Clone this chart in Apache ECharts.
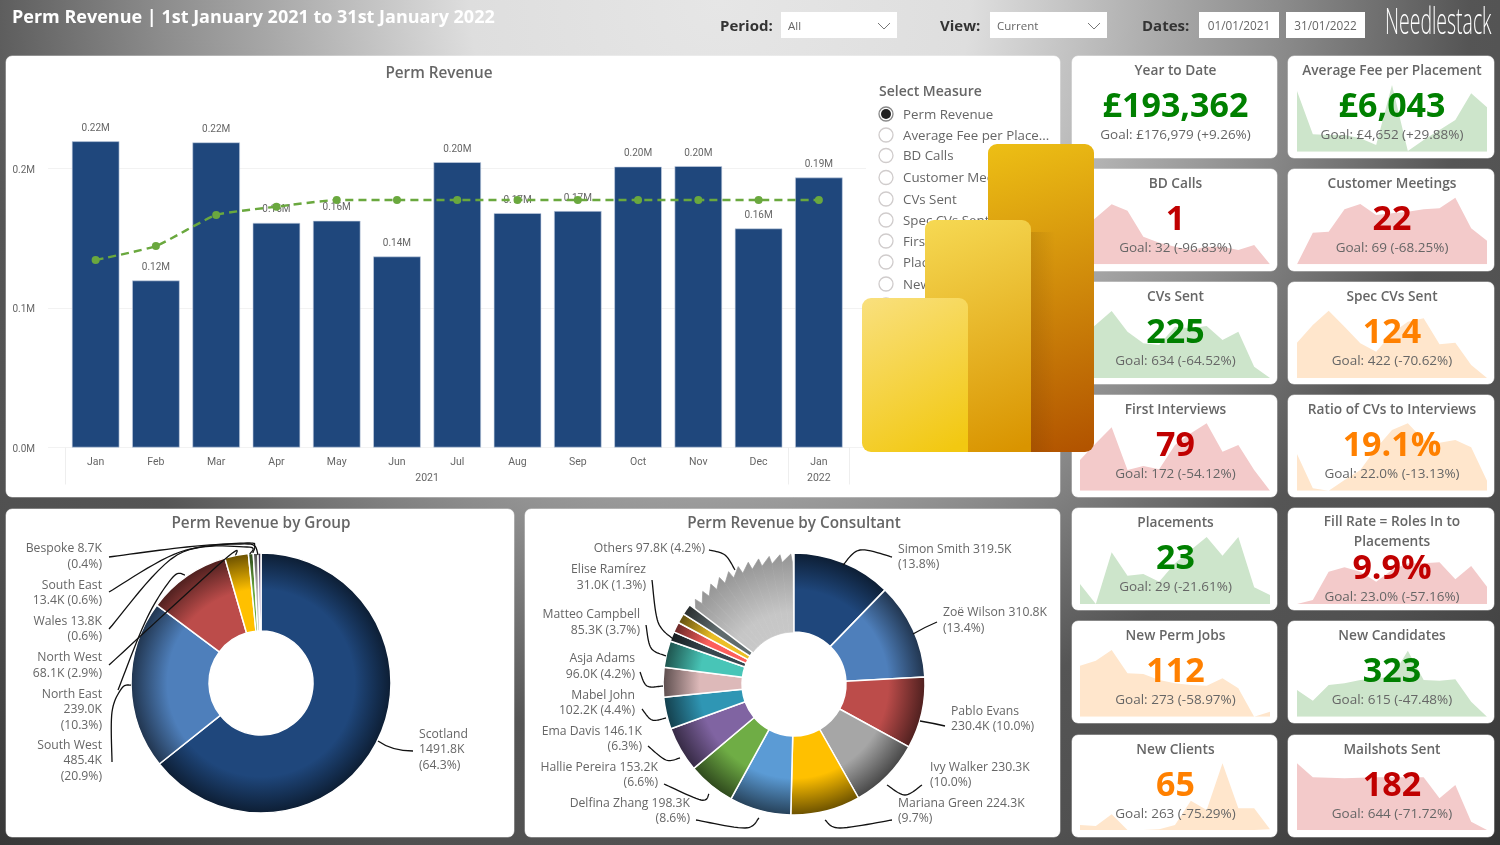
<!DOCTYPE html>
<html><head><meta charset="utf-8">
<style>
html,body{margin:0;padding:0;width:1500px;height:845px;overflow:hidden;
background:radial-gradient(circle 1150px at 720px 0px,#e6e6e6 0,#dedede 250px,#a8a8a8 450px,#8c8c8c 560px,#555 750px,#505050 900px,#333 1150px);}
#c{width:1500px;height:845px;}
</style>
<script src="https://cdn.jsdelivr.net/npm/echarts@6/dist/echarts.min.js"></script>
</head><body><div id="c"></div>
<script>
// ---------- data ----------
const months = ['Jan','Feb','Mar','Apr','May','Jun','Jul','Aug','Sep','Oct','Nov','Dec','Jan'];
const revenue = [0.2195,0.1197,0.2187,0.1610,0.1625,0.1369,0.2045,0.1680,0.1695,0.2013,0.2017,0.1570,0.1935];
const revenueGoal = [0.1344,0.1444,0.1667,0.1726,0.1774,0.1774,0.1774,0.1774,0.1774,0.1774,0.1774,0.1774,0.1774];
const yearLabels = ['2021','2022'];
const measures = ['Perm Revenue','Average Fee per Place...','BD Calls','Customer Meetings','CVs Sent','Spec CVs Sent','First Interviews','Placements','New Perm Jobs','New Candidates'];

const groupNames = ['Scotland','South West','North East','North West','Wales','South East','Bespoke'];
const groupValues = [1491.8,485.4,239.0,68.1,13.8,13.4,8.7];
const groupLabels = ['Scotland\n1491.8K\n(64.3%)','South West\n485.4K\n(20.9%)','North East\n239.0K\n(10.3%)','North West\n68.1K (2.9%)','Wales 13.8K\n(0.6%)','South East\n13.4K (0.6%)','Bespoke 8.7K\n(0.4%)'];

const consultantNames = ['Simon Smith','Zoë Wilson','Pablo Evans','Ivy Walker','Mariana Green','Delfina Zhang','Hallie Pereira','Ema Davis','Mabel John','Asja Adams','Matteo Campbell','Elise Ramírez','Consultant A','Consultant B','Consultant C'];
const consultantValues = [319.5,310.8,230.4,230.3,224.3,198.3,153.2,146.1,102.2,96.0,85.3,31.0,33.0,32.0,30.0];
const consultantLabels = ['Simon Smith 319.5K\n(13.8%)','Zoë Wilson 310.8K\n(13.4%)','Pablo Evans\n230.4K (10.0%)','Ivy Walker 230.3K\n(10.0%)','Mariana Green 224.3K\n(9.7%)','Delfina Zhang 198.3K\n(8.6%)','Hallie Pereira 153.2K\n(6.6%)','Ema Davis 146.1K\n(6.3%)','Mabel John\n102.2K (4.4%)','Asja Adams\n96.0K (4.2%)','Matteo Campbell\n85.3K (3.7%)','Elise Ramírez\n31.0K (1.3%)'];
const othersLabel = 'Others 97.8K (4.2%)';
const othersBreakdown = [13.2,11.6,10.4,9.7,9.1,8.6,8.2,7.9,7.1,6.3,5.7];

const kpiTitles = ['Year to Date','Average Fee per Placement','BD Calls','Customer Meetings','CVs Sent','Spec CVs Sent','First Interviews','Ratio of CVs to Interviews','Placements','Fill Rate = Roles In to\nPlacements','New Perm Jobs','New Candidates','New Clients','Mailshots Sent'];
const kpiValues = ['£193,362','£6,043','1','22','225','124','79','19.1%','23','9.9%','112','323','65','182'];
const kpiGoals = ['Goal: £176,979 (+9.26%)','Goal: £4,652 (+29.88%)','Goal: 32 (-96.83%)','Goal: 69 (-68.25%)','Goal: 634 (-64.52%)','Goal: 422 (-70.62%)','Goal: 172 (-54.12%)','Goal: 22.0% (-13.13%)','Goal: 29 (-21.61%)','Goal: 23.0% (-57.16%)','Goal: 273 (-58.97%)','Goal: 615 (-47.48%)','Goal: 263 (-75.29%)','Goal: 644 (-71.72%)'];
const kpiStatus = ['good','good','bad','bad','good','warn','bad','warn','good','bad','warn','good','warn','bad'];

const sparkFee = [182,52,50,50,40,20,200,2,35,65,95,175,133];
const sparkBD = [100,140,180,161,83,65,53,43,53,53,43,58,0];
const sparkMeetings = [0,95,98,165,181,148,153,158,165,168,200,108,71];
const sparkCVs = [120,160,201,139,104,99,154,149,156,114,139,34,0];
const sparkSpec = [106,159,202,154,104,79,134,169,179,101,106,39,0];
const sparkInterviews = [92,142,190,62,74,64,137,172,202,117,137,62,0];
const sparkRatio = [110,7,0,32,62,127,182,202,152,144,152,130,30];
const sparkPlacements = [60,0,155,85,90,67,122,162,201,145,201,50,27];
const sparkFill = [0,12,97,110,97,67,102,122,122,125,74,114,52];
const sparkJobs = [153,168,200,130,128,110,100,95,93,115,85,0,15];
const sparkCandidates = [80,48,95,100,110,115,120,198,110,108,112,45,0];
const sparkClients = [15,12,47,0,0,2,15,88,60,200,65,65,2];
const sparkMailshots = [200,158,157,155,157,158,158,158,158,95,135,25,0];
const sparks = [null,sparkFee,sparkBD,sparkMeetings,sparkCVs,sparkSpec,sparkInterviews,sparkRatio,sparkPlacements,sparkFill,sparkJobs,sparkCandidates,sparkClients,sparkMailshots];

// ---------- layout and style (not data) ----------
const F = '"Open Sans"';
const GREY = '#666666';
const statusColor = {good:'#008000',bad:'#C00000',warn:'#FF8000'};
const sparkColor = {good:'#CDE5CB',bad:'#F3CACA',warn:'#FFE6CC'};
const rowTops = [56,169,282,395,508,621,735];
const rowH = [102,102,102,102,102,102,102];
const sparkBase = [151.7,264.3,378,490.7,604,716.7,830];
const colX = [1072,1288], colW = [205,206], sparkX = [1080,1297];
const panels = [[6,56,1054,441],[6,509,508,328],[525,509,535,328]];
const AXIS0 = 447.5, PXPER = 1395;    // y of 0 and px per 1.0M
const YMAX = 0.25;
const gridTop = AXIS0 - YMAX*PXPER, gridH = YMAX*PXPER;

const groupColors = ['#1F477C','#4E7FBB','#BC4C4A','#FFC000','#6AA83E','#B9B9B9','#7F5F9F'];
const consultantColors = ['#1F477C','#4E7FBB','#BC4C4A','#A6A6A6','#FFC000','#5B9BD5','#6FAD45','#8064A2','#2F96B4','#DDB9B9','#48C5B7','#37474F','#FD5F5C','#EBBF26','#5F6B6D'];
function shade(hex,f){const n=parseInt(hex.slice(1),16);const c=[n>>16,(n>>8)&255,n&255].map(v=>Math.round(v*f));return 'rgb('+c.join(',')+')';}
function rim(hex,cx,cy,R){return {type:'radial',x:cx,y:cy,r:R,global:true,colorStops:[{offset:0,color:hex},{offset:0.72,color:hex},{offset:1,color:shade(hex,0.42)}]};}

const G = {cx:261,cy:683,r0:52,R:130};
const C = {cx:794,cy:684,r0:52,R:131};
const groupLabelPos = [[419,750,'left'],[102,761,'right'],[102,710,'right'],[102,665.5,'right'],[102,629,'right'],[102,593,'right'],[102,556.5,'right']];
const groupLinePts = [
 [[131,685],[122,688],[112,712],[112,762]],
 [[185,575],[173,577],[147,618],[118,690]],
 [[236,555],[224,560],[109,665]],
 [[250,554],[247,547],[177,555],[109,629]],
 [[253,553],[248,544],[180,552],[109,592]],
 [[258,555],[255,546],[247,543],[187,547],[109,557]]];
const consLabelPos = [[898,557,'left'],[943,620.5,'left'],[951,719,'left'],[930,775,'left'],[898,811,'left'],[690,811,'right'],[658,775,'right'],[642,739,'right'],[635,703,'right'],[635,666.5,'right'],[640,622.5,'right'],[646,577.5,'right']];
const consLinePts = [
 [[843,565],[860,550],[892,557]],
 [[887,785],[905,795],[922,785]],
 [[825,820],[840,828],[892,820]],
 [[759,818],[745,828],[696,820]],
 [[709,794],[701,800],[664,784]],
 [[680,758],[666,760],[648,746]],
 [[666,718],[652,720],[642,709]],
 [[663,686],[647,686],[640,672]],
 [[666,656],[651,648],[646,625]],
 [[673,639],[658,622],[652,580]]];
// short leaders on the right of the pies: start, control point, end
const rightLeaders = [
 [[378,741],[392,751],[413,751]],
 [[913,634],[925,627],[937,622]],
 [[920,721],[932,723],[945,726]]];
const othersLabelPos = [705,549,'right'];
const othersLinePts = [[735,570],[725,555],[709,550]];
const MIN_ANGLE = 4.8;

// ---------- graphic furniture ----------
const g = [];
function txt(x,y,text,font,fill,align,z,extra){
  g.push(Object.assign({type:'text',x,y:y+1,z:z==null?50:z,silent:true,style:{text,font,fill,textAlign:align||'left',textVerticalAlign:'middle',align:align||'left',verticalAlign:'middle',lineHeight:20}},extra||{}));
}
function box(x,y,w,h,r,fill,z,stroke){
  g.push({type:'rect',z:z==null?-5:z,silent:true,shape:{x,y,width:w,height:h,r},style:{fill,stroke:stroke||null,lineWidth:stroke?1:0}});
}
panels.forEach(p=>box(p[0],p[1],p[2],p[3],6,'#fff',-5,'rgba(255,255,255,0.55)'));
rowTops.forEach((t,r)=>colX.forEach((x,c)=>box(x,t,colW[c],rowH[r],6,'#fff',-5,'rgba(255,255,255,0.55)')));

// header
txt(12,17,'Perm Revenue | 1st January 2021 to 31st January 2022','700 18px '+F,'#fff');
txt(720,25.5,'Period:','700 15px '+F,'#333');
txt(940,25.5,'View:','700 15px '+F,'#333');
txt(1142,25.5,'Dates:','700 15px '+F,'#333');
[[781,116,'All'],[990,117,'Current']].forEach(d=>{
  box(d[0],12,d[1],26,0,'#fff',1);
  txt(d[0]+7,25.5,d[2],'11.5px '+F,GREY,'left');
  const cx=d[0]+d[1]-13;
  g.push({type:'polyline',z:50,silent:true,shape:{points:[[cx-6,23],[cx,29],[cx+6,23]]},style:{stroke:'#777',lineWidth:1,fill:null}});
});
[[1199,80,'01/01/2021'],[1286,79,'31/01/2022']].forEach(d=>{
  box(d[0],12,d[1],26,0,'#fff',1);
  txt(d[0]+d[1]/2,25.5,d[2],'11.8px '+F,GREY,'center');
});
txt(1385,23,'Needlestack','300 36px '+F,'#fff','left',50,{scaleX:0.54});

// select measure
txt(879,91,'Select Measure','600 14px '+F,GREY);
const radioY=[114,135,155.5,177.5,199,220,241,262,284,305];
measures.forEach((m,i)=>{
  g.push({type:'circle',z:10,silent:true,shape:{cx:886,cy:radioY[i],r:7},style:{fill:'#fff',stroke:i===0?'#888':'#d0cccc',lineWidth:1.3}});
  if(i===0) g.push({type:'circle',z:11,silent:true,shape:{cx:886,cy:radioY[i],r:5},style:{fill:'#222'}});
  txt(903,radioY[i],m,'13.3px '+F,GREY,'left',10);
});

// kpi text
kpiTitles.forEach((t,i)=>{
  const r=Math.floor(i/2), c=i%2, cx=colX[c]+colW[c]/2+1, top=rowTops[r];
  const two=t.indexOf('\n')>=0;
  txt(cx,top+(two?23.5:14.5),t,'600 13.7px '+F,GREY,'center',60);
  txt(cx,top+(two?60:50),kpiValues[i],'700 34px '+F,statusColor[kpiStatus[i]],'center',60);
  txt(cx,top+(two?88.5:78.5),kpiGoals[i],'13.5px '+F,GREY,'center',60);
});

// pie leader lines (curved through the guide points)
function curve(pts){
  if(pts.length<3) return pts;
  const out=[];
  for(let i=0;i<pts.length-1;i++){
    const p0=pts[Math.max(i-1,0)],p1=pts[i],p2=pts[i+1],p3=pts[Math.min(i+2,pts.length-1)];
    for(let k=0;k<12;k++){
      const t=k/12,t2=t*t,t3=t2*t;
      out.push([0,1].map(d=>0.5*(2*p1[d]+(p2[d]-p0[d])*t+(2*p0[d]-5*p1[d]+4*p2[d]-p3[d])*t2+(3*p1[d]-p0[d]-3*p2[d]+p3[d])*t3)));
    }
  }
  out.push(pts[pts.length-1]);
  return out;
}
groupLinePts.concat(consLinePts,[othersLinePts]).forEach(pts=>{
  g.push({type:'polyline',z:190,silent:true,shape:{points:curve(pts)},style:{stroke:'#111',lineWidth:1.3,fill:null}});
});
rightLeaders.forEach(p=>{
  g.push({type:'bezierCurve',z:190,silent:true,shape:{x1:p[0][0],y1:p[0][1],cpx1:p[1][0],cpy1:p[1][1],x2:p[2][0],y2:p[2][1]},style:{stroke:'#111',lineWidth:1.3,fill:null}});
});

// logo (on top of everything)
function grad(a,b){return {type:'linear',x:0,y:0,x2:0.8,y2:1,colorStops:[{offset:0,color:a},{offset:1,color:b}]};}
g.push({type:'rect',z:200,silent:true,shape:{x:988,y:144,width:106,height:308,r:[9,9,9,0]},style:{fill:grad('#EDBF15','#B25400')}});
g.push({type:'rect',z:201,silent:true,shape:{x:1031,y:232,width:24,height:220,r:0},style:{fill:{type:'linear',x:0,y:0,x2:1,y2:0,colorStops:[{offset:0,color:'rgba(70,35,0,0.13)'},{offset:1,color:'rgba(70,35,0,0)'}]}}});
g.push({type:'rect',z:202,silent:true,shape:{x:925,y:220,width:106,height:232,r:[9,9,0,0]},style:{fill:grad('#F6D953','#D99400')}});
g.push({type:'rect',z:204,silent:true,shape:{x:862,y:298,width:106,height:154,r:[9,9,0,9]},style:{fill:grad('#F9E07E','#F2C811')}});

// ---------- chart ----------
const grids=[], xAxes=[], yAxes=[], series=[];
function addGrid(o){grids.push(o);return grids.length-1;}
// 0: full-width grid holding the faint split lines
addGrid({left:48,width:818,top:gridTop,height:gridH});
xAxes.push({gridIndex:0,type:'category',show:false,data:months});
yAxes.push({gridIndex:0,type:'value',min:0,max:YMAX,interval:0.1,axisLine:{show:false},axisTick:{show:false},axisLabel:{show:false},
  splitLine:{show:true,showMaxLine:false,lineStyle:{color:'#f2f2f2',width:1}}});
// 1: bars and goal line
addGrid({left:65.5,width:783.5,top:gridTop,height:gridH});
xAxes.push({gridIndex:1,type:'category',data:months,axisLine:{show:false},axisTick:{show:false},
  axisLabel:{margin:9,fontFamily:'Roboto',fontSize:10.5,color:GREY,interval:0}});
yAxes.push({gridIndex:1,type:'value',show:false,min:0,max:YMAX});
// second row: year labels and separators
xAxes.push({gridIndex:1,type:'value',min:0,max:13,position:'bottom',splitLine:{show:false},axisLine:{show:false},
  axisTick:{show:true,customValues:[0,12,13],length:37,lineStyle:{color:'#eeeeee'}},
  axisLabel:{margin:25,customValues:[6,12.5],fontFamily:'Roboto',fontSize:10.5,color:GREY,hideOverlap:false,showMinLabel:true,showMaxLabel:true,
    formatter:v=>v<12?yearLabels[0]:yearLabels[1]}});
series.push({name:'Perm Revenue',type:'bar',xAxisIndex:1,yAxisIndex:1,data:revenue,barWidth:47.5,z:2,
  itemStyle:{color:'#1F477C',borderColor:'#C9D4E4',borderWidth:0.6},
  label:{show:true,position:'top',distance:8,fontFamily:'Roboto',fontSize:10,color:GREY,formatter:p=>p.value.toFixed(2)+'M'}});
series.push({name:'Goal',type:'line',xAxisIndex:1,yAxisIndex:1,data:revenueGoal,smooth:0.15,z:4,symbol:'circle',symbolSize:8,
  lineStyle:{color:'#6AA83E',width:2.4,type:[8,5]},itemStyle:{color:'#6AA83E'}});
// tick labels of the value axis sit a touch below their split lines in the reference
const yLabelGrid=addGrid({left:48,width:818,top:gridTop+1.6,height:gridH});
xAxes.push({gridIndex:yLabelGrid,type:'category',show:false,data:months});
yAxes.push({gridIndex:yLabelGrid,type:'value',min:0,max:YMAX,interval:0.1,axisLine:{show:false},axisTick:{show:false},splitLine:{show:false},
  axisLabel:{showMaxLabel:false,margin:13,fontFamily:'Roboto',fontSize:10,color:GREY,formatter:v=>v.toFixed(1)+'M'}});

// sparklines
sparks.forEach((s,i)=>{
  if(!s) return;
  const r=Math.floor(i/2), c=i%2;
  const idx=addGrid({left:sparkX[c],width:190,top:sparkBase[r]-70,height:70});
  const xi=xAxes.length, yi=yAxes.length;
  xAxes.push({gridIndex:idx,type:'category',show:false,boundaryGap:false,data:months});
  yAxes.push({gridIndex:idx,type:'value',show:false,min:0,max:210});
  const col=sparkColor[kpiStatus[i]];
  series.push({name:kpiTitles[i],type:'line',xAxisIndex:xi,yAxisIndex:yi,data:s,symbol:'none',silent:true,z:2,
    lineStyle:{width:0,color:col},areaStyle:{color:col,opacity:1}});
});

// group pie
series.push({name:'Perm Revenue by Group',type:'pie',center:[G.cx,G.cy],radius:[G.r0,G.R],startAngle:90,clockwise:true,avoidLabelOverlap:false,animation:false,
  data:groupValues.map((v,i)=>({name:groupNames[i],value:v,itemStyle:{color:rim(groupColors[i],G.cx,G.cy,G.R)}})),
  itemStyle:{borderColor:'#fff',borderWidth:1.5},
  label:{show:true,formatter:p=>groupLabels[p.dataIndex],fontFamily:F,fontSize:12.2,lineHeight:15.5,color:GREY},
  labelLine:{show:false},
  labelLayout:p=>{const q=groupLabelPos[p.dataIndex];return {x:q[0],y:q[1],align:q[2],verticalAlign:'middle'};}
});

// consultant pie: the small "others" slices take up their minimum angle, as in the reference
const consData=consultantValues.map((v,i)=>{
  const labelled=i<consultantLabels.length;
  return {name:consultantNames[i],value:v,itemStyle:{color:rim(consultantColors[i],C.cx,C.cy,C.R)},
    label:{show:labelled}};
}).concat(othersBreakdown.map((v,i)=>({name:'Others',value:v,itemStyle:{color:'rgba(0,0,0,0)',borderWidth:0},
    label:{show:i===2}})));
series.push({name:'Perm Revenue by Consultant',type:'pie',center:[C.cx,C.cy],radius:[C.r0,C.R],startAngle:90,clockwise:true,minAngle:MIN_ANGLE,avoidLabelOverlap:false,animation:false,z:3,
  data:consData,
  itemStyle:{borderColor:'#fff',borderWidth:1.5},
  label:{show:true,formatter:p=>p.dataIndex<consultantLabels.length?consultantLabels[p.dataIndex]:othersLabel,fontFamily:F,fontSize:12.2,lineHeight:15.5,color:GREY},
  labelLine:{show:false},
  labelLayout:p=>{
    const i=p.dataIndex;
    if(i<consultantLabels.length){const q=consLabelPos[i];return {x:q[0],y:q[1],align:q[2],verticalAlign:'middle'};}
    return {x:othersLabelPos[0],y:othersLabelPos[1],align:othersLabelPos[2],verticalAlign:'middle'};
  }
});
// sawtooth outline of the others wedge: one tooth per small consultant
const othersFill={type:'radial',x:C.cx,y:C.cy,r:C.R,global:true,colorStops:[{offset:0,color:'#CDCDCD'},{offset:0.55,color:'#C6C6C6'},{offset:1,color:'#939393'}]};
series.push({name:'Others',type:'custom',coordinateSystem:'none',silent:true,animation:false,z:2,
  data:othersBreakdown.map((v,i)=>[i,v]),
  renderItem:(params,api)=>{
    const n=othersBreakdown.length, i=api.value(0);
    const a0=360-0.8-(n-i)*MIN_ANGLE, a1=a0+MIN_ANGLE;
    const P=(r,a)=>{const t=a*Math.PI/180;return [C.cx+r*Math.sin(t),C.cy-r*Math.cos(t)];};
    return {type:'polygon',shape:{points:[P(C.r0,a0),P(C.R-9,a0),P(C.R-1,a1-0.6),P(C.R-9,a1),P(C.r0,a1)]},style:{fill:othersFill,stroke:othersFill,lineWidth:0.7}};
  }
});

const titleStyle={fontFamily:F,fontSize:15.3,fontWeight:600,color:GREY};
const chart=echarts.init(document.getElementById('c'),null,{renderer:'canvas'});
chart.setOption({
  animation:false,
  title:[
    {text:'Perm Revenue',left:434,top:61,textAlign:'center',textStyle:titleStyle},
    {text:'Perm Revenue by Group',left:256,top:511,textAlign:'center',textStyle:titleStyle},
    {text:'Perm Revenue by Consultant',left:789,top:511,textAlign:'center',textStyle:titleStyle}],
  grid:grids,xAxis:xAxes,yAxis:yAxes,series:series,
  graphic:{elements:g}
});
</script></body></html>
